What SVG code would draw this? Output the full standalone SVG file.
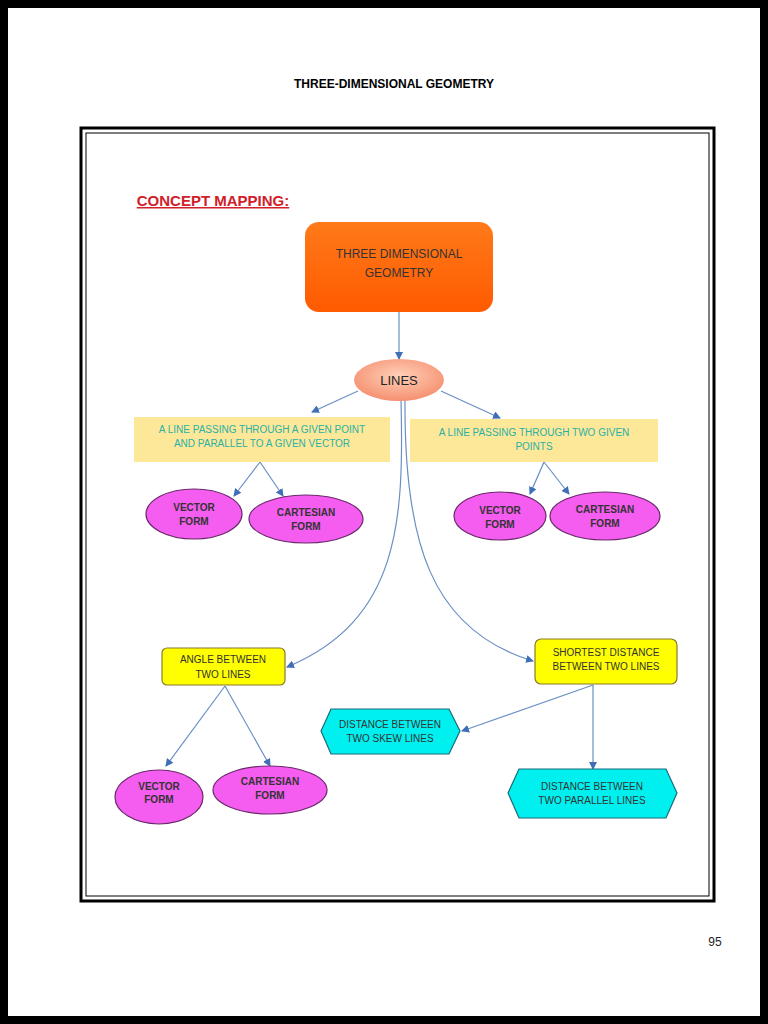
<svg xmlns="http://www.w3.org/2000/svg" width="768" height="1024" viewBox="0 0 768 1024">
<style>
text{font-family:"Liberation Sans",Arial,sans-serif;text-anchor:middle}
.b{font-weight:bold}
.ell{fill:#f55cf0;stroke:#6a2a6a;stroke-width:1.2}
.ys{fill:#fde89a}
.yb{fill:#ffff00;stroke:#8a7a2a;stroke-width:1.2}
.hx{fill:#00f0f0;stroke:#1a6a7a;stroke-width:1.2}
.tl{fill:#2ab0a5;font-size:10px}
.dk{fill:#333;font-size:10px}
.c{fill:none;stroke:#6b8fc4;stroke-width:1.2;marker-end:url(#a)}
</style>
<defs><marker id="a" markerWidth="8" markerHeight="8" refX="7" refY="4" orient="auto" markerUnits="userSpaceOnUse"><path d="M0,0L8,4L0,8z" fill="#3f6fb8"/></marker>
<linearGradient id="og" x1="0" y1="0" x2="0" y2="1"><stop offset="0" stop-color="#ff7a1a"/><stop offset="1" stop-color="#ff5a00"/></linearGradient>
<radialGradient id="lg" cx="0.5" cy="0.4" r="0.6"><stop offset="0" stop-color="#ffd0b8"/><stop offset="1" stop-color="#f59070"/></radialGradient></defs>
<rect x="4" y="4" width="760" height="1016" fill="#fff" stroke="#000" stroke-width="8"/>
<text x="394" y="88" class="b" font-size="12">THREE-DIMENSIONAL GEOMETRY</text>
<rect x="81" y="128" width="633" height="773" fill="none" stroke="#000" stroke-width="3"/>
<rect x="86" y="133" width="623" height="763" fill="none" stroke="#000" stroke-width="1"/>
<text x="213" y="206" class="b" font-size="15" fill="#d0202a" text-decoration="underline">CONCEPT MAPPING:</text>
<g id="connectors">
<path class="c" d="M399,312 V359"/>
<path class="c" d="M358,391 L312,412"/>
<path class="c" d="M441,391 L500,418"/>
<path class="c" d="M260,462 L234,496"/>
<path class="c" d="M260,462 L283,496"/>
<path class="c" d="M544,462 L530,494"/>
<path class="c" d="M544,462 L569,494"/>
<path class="c" d="M401,400 C404,520 400,620 287,667"/>
<path class="c" d="M405,400 C404,540 430,630 533,661"/>
<path class="c" d="M225,686 L166,766"/>
<path class="c" d="M225,686 L270,766"/>
<path class="c" d="M593,685 L462,731"/>
<path class="c" d="M593,685 V769"/>
</g>
<g id="n1"><rect x="305" y="222" width="188" height="90" rx="14" fill="url(#og)"/><text x="399" y="258" font-size="12" fill="#333">THREE DIMENSIONAL</text><text x="399" y="277" font-size="12" fill="#333">GEOMETRY</text></g>
<g id="n2"><ellipse cx="399" cy="380" rx="45" ry="21" fill="url(#lg)"/><text x="399" y="385" font-size="13" fill="#222">LINES</text></g>
<g id="n3"><rect x="134" y="417" width="256" height="45" class="ys"/><text x="262" y="433" class="tl">A LINE PASSING THROUGH A GIVEN POINT</text><text x="262" y="447" class="tl">AND PARALLEL TO A GIVEN VECTOR</text></g>
<g id="n4"><rect x="410" y="419" width="248" height="43" class="ys"/><text x="534" y="436" class="tl">A LINE PASSING THROUGH TWO GIVEN</text><text x="534" y="450" class="tl">POINTS</text></g>
<g id="n5"><ellipse cx="194" cy="514" rx="48" ry="25" class="ell"/><text x="194" y="511" class="dk b">VECTOR</text><text x="194" y="525" class="dk b">FORM</text></g>
<g id="n6"><ellipse cx="306" cy="519" rx="57" ry="24" class="ell"/><text x="306" y="516" class="dk b">CARTESIAN</text><text x="306" y="530" class="dk b">FORM</text></g>
<g id="n7"><ellipse cx="500" cy="516" rx="46" ry="24" class="ell"/><text x="500" y="514" class="dk b">VECTOR</text><text x="500" y="528" class="dk b">FORM</text></g>
<g id="n8"><ellipse cx="605" cy="516" rx="55" ry="24" class="ell"/><text x="605" y="513" class="dk b">CARTESIAN</text><text x="605" y="527" class="dk b">FORM</text></g>
<g id="n9"><rect x="162" y="648" width="123" height="37" rx="5" class="yb"/><text x="223" y="663" class="dk">ANGLE BETWEEN</text><text x="223" y="678" class="dk">TWO LINES</text></g>
<g id="n10"><rect x="535" y="639" width="142" height="45" rx="6" class="yb"/><text x="606" y="656" class="dk">SHORTEST DISTANCE</text><text x="606" y="670" class="dk">BETWEEN TWO LINES</text></g>
<g id="n11"><polygon points="331,709 449,709 460,731 449,754 331,754 321,731" class="hx"/><text x="390" y="728" class="dk">DISTANCE BETWEEN</text><text x="390" y="742" class="dk">TWO SKEW LINES</text></g>
<g id="n12"><polygon points="519,769 666,769 677,793 666,818 519,818 508,793" class="hx"/><text x="592" y="790" class="dk">DISTANCE BETWEEN</text><text x="592" y="804" class="dk">TWO PARALLEL LINES</text></g>
<g id="n13"><ellipse cx="159" cy="797" rx="44" ry="27" class="ell"/><text x="159" y="790" class="dk b">VECTOR</text><text x="159" y="803" class="dk b">FORM</text></g>
<g id="n14"><ellipse cx="270" cy="790" rx="57" ry="24" class="ell"/><text x="270" y="785" class="dk b">CARTESIAN</text><text x="270" y="799" class="dk b">FORM</text></g>
<text x="715" y="946" font-size="12" fill="#222">95</text>
</svg>
